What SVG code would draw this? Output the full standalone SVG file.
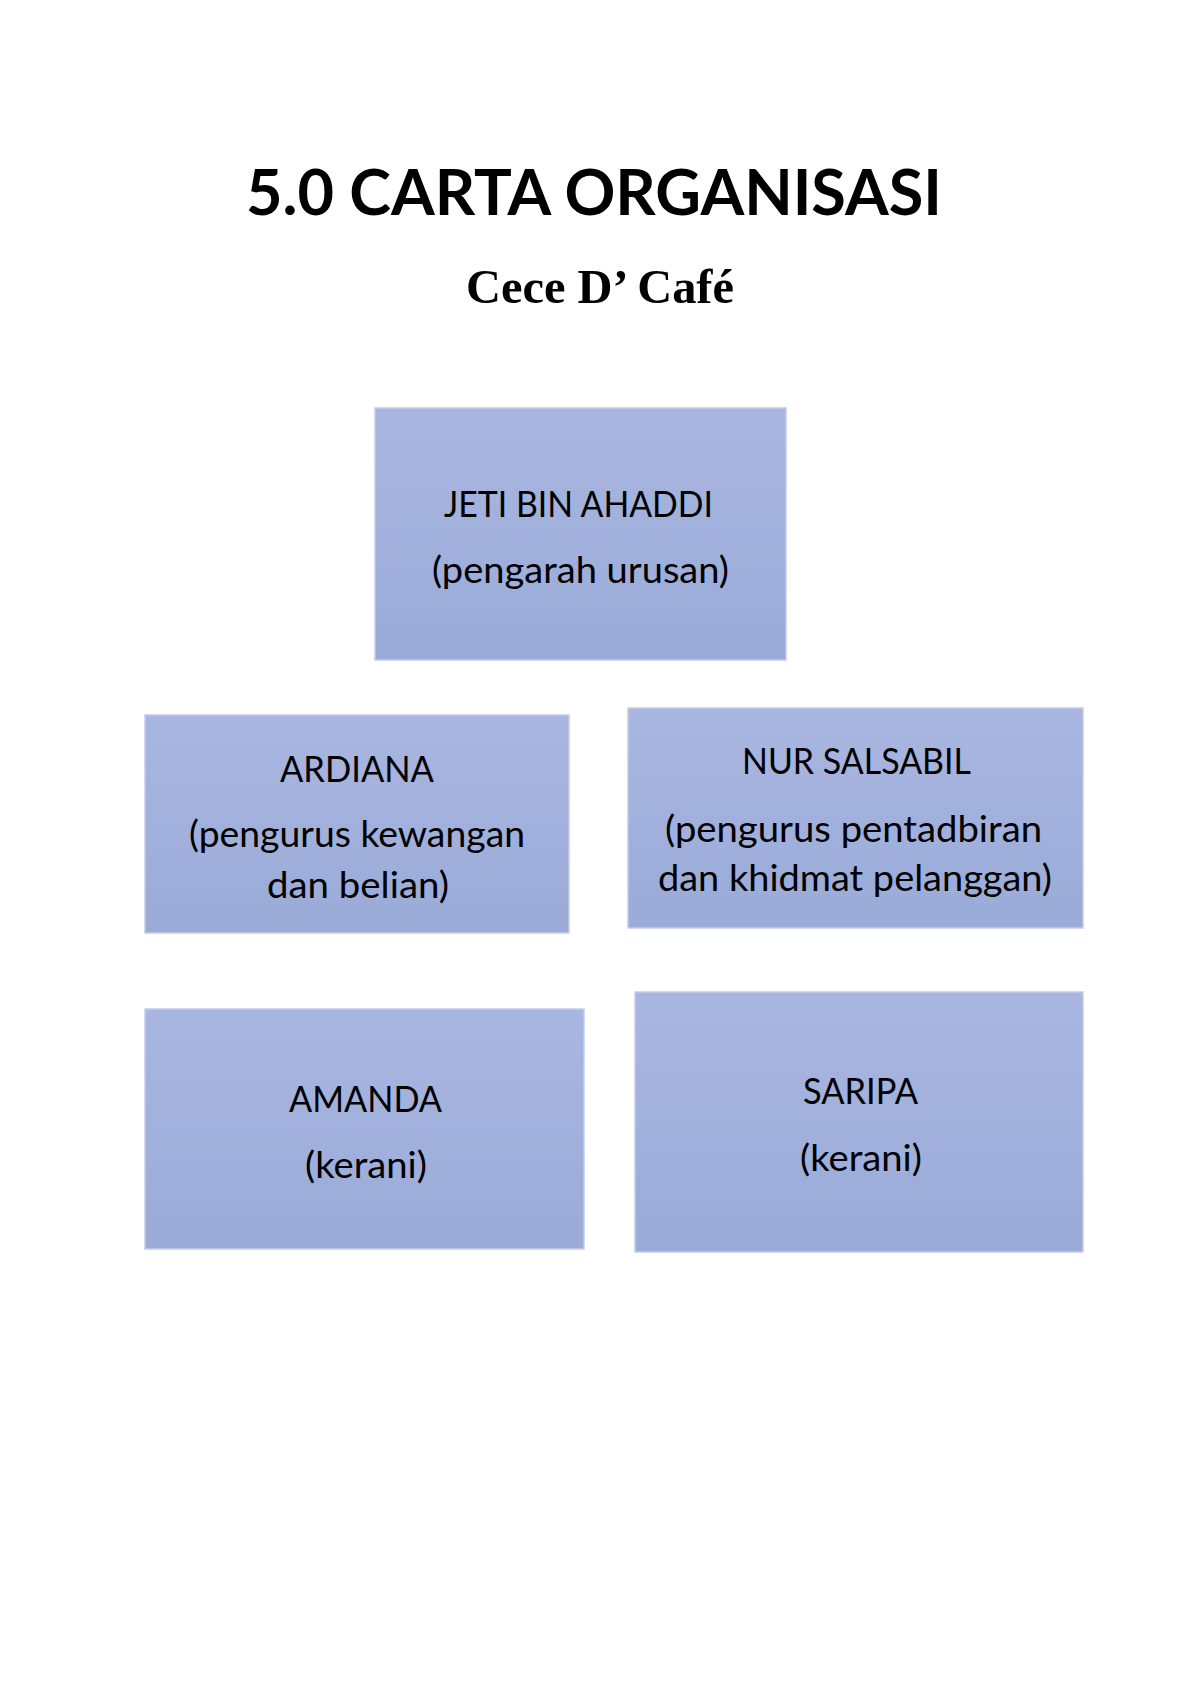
<svg xmlns="http://www.w3.org/2000/svg" width="1200" height="1698" viewBox="0 0 1200 1698">
  <style>
    .box { fill: url(#boxGrad); stroke: #C3CCEB; stroke-width: 1.5; }
    .lbl { font-family: Lato, "Liberation Sans", sans-serif; font-size: 36px; fill: #000000; }
    .title { font-family: Lato, "Liberation Sans", sans-serif; font-size: 63px; font-weight: bold; fill: #000000; }
    .sub { font-family: "Liberation Serif", serif; font-size: 48px; font-weight: bold; fill: #000000; }
  </style>
  <defs>
    <linearGradient id="boxGrad" x1="0" y1="0" x2="0" y2="1">
      <stop offset="0" stop-color="#A9B6E0"/>
      <stop offset="1" stop-color="#9AABD8"/>
    </linearGradient>
  </defs>
  <rect x="0" y="0" width="1200" height="1698" fill="#FFFFFF"/>
  <g id="heading">
    <text class="title" x="246" y="215" textLength="696" lengthAdjust="spacingAndGlyphs">5.0 CARTA ORGANISASI</text>
    <text class="sub" x="466" y="303" textLength="268" lengthAdjust="spacingAndGlyphs">Cece D’ Café</text>
  </g>
  <g id="connectors"></g>
  <g id="node-jeti">
    <rect class="box" x="375" y="408" width="411" height="252"/>
    <text class="lbl" x="444" y="517" textLength="269" lengthAdjust="spacingAndGlyphs">JETI BIN AHADDI</text>
    <text class="lbl" x="432" y="583" textLength="297" lengthAdjust="spacingAndGlyphs">(pengarah urusan)</text>
  </g>
  <g id="node-ardiana">
    <rect class="box" x="145" y="715" width="424" height="218"/>
    <text class="lbl" x="280" y="782" textLength="154" lengthAdjust="spacingAndGlyphs">ARDIANA</text>
    <text class="lbl" x="189" y="847" textLength="336" lengthAdjust="spacingAndGlyphs">(pengurus kewangan</text>
    <text class="lbl" x="267" y="898" textLength="182" lengthAdjust="spacingAndGlyphs">dan belian)</text>
  </g>
  <g id="node-nur">
    <rect class="box" x="628" y="708" width="455" height="220"/>
    <text class="lbl" x="742" y="774" textLength="229" lengthAdjust="spacingAndGlyphs">NUR SALSABIL</text>
    <text class="lbl" x="665" y="842" textLength="377" lengthAdjust="spacingAndGlyphs">(pengurus pentadbiran</text>
    <text class="lbl" x="658" y="891" textLength="394" lengthAdjust="spacingAndGlyphs">dan khidmat pelanggan)</text>
  </g>
  <g id="node-amanda">
    <rect class="box" x="145" y="1009" width="439" height="240"/>
    <text class="lbl" x="289" y="1112" textLength="153" lengthAdjust="spacingAndGlyphs">AMANDA</text>
    <text class="lbl" x="305" y="1178" textLength="122" lengthAdjust="spacingAndGlyphs">(kerani)</text>
  </g>
  <g id="node-saripa">
    <rect class="box" x="635" y="992" width="448" height="260"/>
    <text class="lbl" x="803" y="1104" textLength="115" lengthAdjust="spacingAndGlyphs">SARIPA</text>
    <text class="lbl" x="800" y="1171" textLength="122" lengthAdjust="spacingAndGlyphs">(kerani)</text>
  </g>
</svg>
